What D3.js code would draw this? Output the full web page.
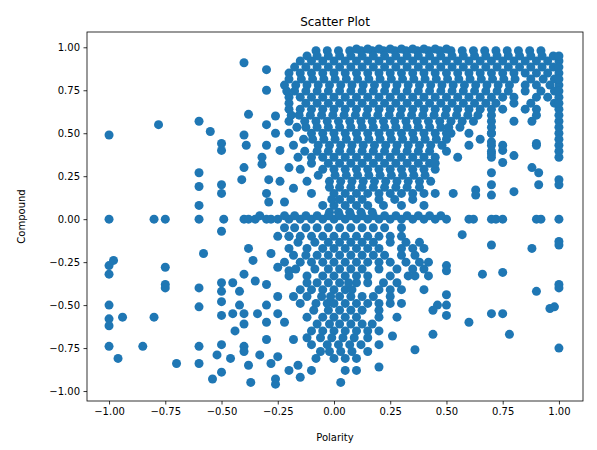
<!DOCTYPE html>
<html><head><meta charset="utf-8">
<script src="https://cdn.jsdelivr.net/npm/d3@7"></script>
<style>body{margin:0;background:#fff}text{font-family:"DejaVu Sans",sans-serif}</style>
</head><body><svg id="c" width="597" height="450"></svg>
<script>
// scattered single points
const polarity = [-1,-1,-1,-0.98,-1,-1,-1,-1,-1,-0.96,-0.94,-0.78,-0.8,-0.75,-0.75,-0.75,-0.75,-0.8,-0.85,-0.7,
  -0.6,-0.55,-0.6,-0.6,-0.6,-0.6,-0.58,-0.6,-0.6,-0.6,-0.6,-0.54,-0.5,-0.5,-0.5,-0.5,-0.5,-0.49,-0.5,-0.5,-0.5,-0.5,-0.5,-0.5,-0.52,
  -0.45,-0.45,-0.46,-0.44,-0.4,-0.4,-0.4,-0.41,-0.38,-0.39,-0.4,-0.42,-0.42,-0.4,-0.4,-0.4,-0.4,-0.38,-0.37,-0.38,-0.36,-0.35,-0.34,-0.33,
  -0.3,-0.3,-0.3,-0.3,-0.32,-0.32,-0.29,-0.3,-0.29,-0.3,-0.3,-0.3,-0.3,-0.28,-0.26,-0.26,-0.28,-0.25,-0.25,-0.25,-0.25,-0.22,-0.2,-0.2,
  -0.22,-0.24,-0.24,-0.26,-0.26,-0.2,-0.18,-0.2,-0.18,-0.18,-0.16,-0.15,
  0.57,0.7,0.88,1,1,0.66,0.75,0.5,0.5,0.5,0.5,0.5,0.9,1,1,0.96,0.98,0.7,0.75,0.6,0.78,0.44,1,0.36,0.2,0.03,0.26,0.46,0.44,
  0.75,0.75,0.8,0.8,0.88,0.9,0.91,0.91,1,1,1,0.7,0.7,0.7,0.63,0.63,0.53,0.7,0.7,0.7];
const compound = [0.49,0,-0.27,-0.24,-0.32,-0.5,-0.58,-0.62,-0.74,-0.81,-0.57,0.55,0,0,-0.28,-0.38,-0.4,-0.57,-0.74,-0.84,
  0.57,0.51,0.27,0.19,0.08,0,-0.2,-0.4,-0.51,-0.74,-0.84,-0.93,0.44,0.4,0.2,0.15,-0.07,0,-0.37,-0.42,-0.48,-0.56,-0.73,-0.89,-0.79,
  -0.37,-0.55,-0.81,-0.65,0.91,0.49,0.3,0.23,0.61,0.43,-0.32,-0.42,-0.5,-0.55,-0.61,-0.74,-0.77,-0.85,-0.95,-0.17,-0.24,-0.36,-0.55,-0.79,
  0.87,0.75,0.55,0.43,0.36,0.32,0.23,0.15,0.1,-0.38,-0.5,-0.6,-0.7,-0.84,-0.93,-0.96,-0.2,-0.28,-0.45,-0.55,-0.8,-0.6,-0.88,-0.1,
  0.1,0.4,0.22,0.6,0.5,0.3,0.18,-0.3,-0.45,-0.7,-0.85,-0.92,
  -0.09,-0.15,-0.17,-0.13,-0.15,-0.32,-0.31,-0.27,-0.3,-0.44,-0.5,-0.56,-0.42,-0.38,-0.4,-0.52,-0.51,-0.55,-0.55,-0.6,-0.67,-0.67,-0.75,-0.76,-0.86,-0.95,-0.68,-0.5,-0.53,
  0.4,0.33,0.37,0.16,0.3,0.44,0.27,0.2,0.36,0.23,0.2,0.27,0.2,0.14,0.17,0.14,0.15,0.5,0.45,0.38];

// dense rows: compound value and the polarity values seen along that row
const rowCompound = [0.98,0.92,0.85,0.78,0.71,0.64,0.57,0.5,0.43,0.36,0.29,0.22,0.15,0.08,0,
  -0.1,-0.17,-0.25,-0.33,-0.41,-0.49,-0.57,-0.65,-0.73,-0.81,-0.88];
const rowPolarity = [
  [-0.08,-0.03,0.02,0.07,0.12,0.17,0.22,0.27,0.32,0.37,0.42,0.47,0.52,0.57,0.62,0.67,0.72,0.77,0.82,0.87,0.92],
  [-0.15,-0.1,-0.05,0,0.05,0.1,0.15,0.2,0.25,0.3,0.35,0.4,0.45,0.5,0.55,0.6,0.65,0.7,0.75,0.8,0.85,0.9,0.95,1],
  [-0.2,-0.15,-0.1,-0.05,0,0.05,0.1,0.15,0.2,0.25,0.3,0.35,0.4,0.45,0.5,0.55,0.6,0.65,0.7,0.75,0.8,0.85,0.9,0.95,1],
  [-0.22,-0.17,-0.12,-0.07,-0.02,0.03,0.08,0.13,0.18,0.23,0.28,0.33,0.38,0.43,0.48,0.53,0.58,0.63,0.68,0.73,0.78,0.85,0.9,0.96,1],
  [-0.2,-0.15,-0.1,-0.05,0,0.05,0.1,0.15,0.2,0.25,0.3,0.35,0.4,0.45,0.5,0.55,0.6,0.65,0.7,0.75,0.8,0.9,0.95,1],
  [-0.2,-0.15,-0.1,-0.05,0,0.05,0.1,0.15,0.2,0.25,0.3,0.35,0.4,0.45,0.5,0.55,0.6,0.65,0.7,0.75,0.85,0.9,1],
  [-0.2,-0.13,-0.08,-0.03,0.02,0.07,0.12,0.17,0.22,0.27,0.32,0.37,0.42,0.47,0.52,0.57,0.62,0.7,0.8,0.88,1],
  [-0.2,-0.1,-0.05,0,0.05,0.1,0.15,0.2,0.25,0.3,0.35,0.4,0.45,0.5,0.52,0.6,0.7,1],
  [-0.18,-0.07,-0.02,0.03,0.08,0.13,0.18,0.23,0.28,0.33,0.38,0.43,0.48,0.6,0.7,0.75,0.9,1],
  [-0.16,-0.1,-0.05,0,0.05,0.1,0.15,0.2,0.25,0.3,0.35,0.4,0.45,0.55,0.7],
  [-0.15,-0.05,0,0.05,0.1,0.15,0.2,0.25,0.3,0.35,0.4,0.45],
  [-0.12,-0.02,0.03,0.08,0.13,0.18,0.23,0.28,0.33,0.38,0.43],
  [-0.1,0,0.05,0.1,0.15,0.2,0.25,0.3,0.35,0.4,0.45],
  [-0.05,0,0.05,0.1,0.15,0.22,0.3,0.4],
  [-0.4,-0.38,-0.35,-0.3,-0.28,-0.25,-0.2,-0.15,-0.1,-0.05,0,0.05,0.1,0.15,0.2,0.25,0.3,0.35,0.4,0.45,0.5,0.6,0.62,0.7,0.72,0.75,0.9,0.92,1],
  [-0.25,-0.2,-0.15,-0.1,-0.05,0,0.05,0.1,0.15,0.2,0.25,0.3],
  [-0.2,-0.12,-0.05,0,0.05,0.1,0.15,0.2,0.3,0.35,0.4],
  [-0.22,-0.15,-0.1,-0.05,0,0.05,0.1,0.15,0.2,0.25,0.32,0.38,0.42],
  [-0.2,-0.12,-0.05,0,0.05,0.1,0.15,0.25,0.33,0.36,0.42],
  [-0.15,-0.1,-0.05,0,0.05,0.08,0.2,0.25,0.3,0.4],
  [-0.15,-0.08,-0.03,0,0.05,0.1,0.15,0.2,0.25,0.3],
  [-0.12,-0.05,0,0.05,0.1,0.2,0.28],
  [-0.1,-0.05,0,0.05,0.1,0.15,0.2],
  [-0.1,-0.03,0.02,0.07,0.12,0.2],
  [-0.08,0,0.05,0.1],
  [-0.1,0.05,0.1]
];
// in-between rows filling the gaps of the solid areas
const fillCompound = [0.99,0.95,0.885,0.815,0.745,0.675,0.605,0.535,0.465,0.395,0.325,0.255,0.185,0.115,0.04,0.02,
  -0.05,-0.135,-0.21,-0.29,-0.37,-0.45,-0.53,-0.61,-0.69,-0.77];
const fillPolarity = [
  [0.1,0.15,0.2,0.25,0.3,0.35,0.4,0.45,0.5],
  [-0.12,-0.075,-0.025,0.025,0.075,0.125,0.175,0.225,0.275,0.325,0.375,0.425,0.475,0.525,0.575,0.625,0.675,0.725,0.775,0.825,0.875,0.925,0.975,1],
  [-0.175,-0.125,-0.075,-0.025,0.025,0.075,0.125,0.175,0.225,0.275,0.325,0.375,0.425,0.475,0.525,0.575,0.625,0.675,0.725,0.775,0.825,0.875,0.925,0.975,1],
  [-0.2,-0.145,-0.095,-0.045,0.005,0.055,0.105,0.155,0.205,0.255,0.305,0.355,0.405,0.455,0.505,0.555,0.605,0.655,0.705,0.755,0.805,0.875,0.93,0.98,1],
  [-0.21,-0.175,-0.125,-0.075,-0.025,0.025,0.075,0.125,0.175,0.225,0.275,0.325,0.375,0.425,0.475,0.525,0.575,0.625,0.675,0.725,0.775,0.85,0.92,0.98,1],
  [-0.2,-0.125,-0.075,-0.025,0.025,0.075,0.125,0.175,0.225,0.275,0.325,0.375,0.425,0.475,0.525,0.575,0.625,0.675,0.72,0.8,0.875,0.98,1],
  [-0.19,-0.155,-0.105,-0.055,-0.005,0.045,0.095,0.145,0.195,0.245,0.295,0.345,0.395,0.445,0.495,0.545,0.595,0.64,0.7,0.9,1],
  [-0.165,-0.125,-0.075,-0.025,0.025,0.075,0.125,0.175,0.225,0.275,0.325,0.375,0.425,0.475,0.51,0.56,0.7,1],
  [-0.135,-0.095,-0.045,0.005,0.055,0.105,0.155,0.205,0.255,0.305,0.355,0.405,0.455,0.5,0.65,1],
  [-0.13,-0.075,-0.025,0.025,0.075,0.125,0.175,0.225,0.275,0.325,0.375,0.425,0.5,0.7,1],
  [-0.1,-0.025,0.025,0.075,0.125,0.175,0.225,0.275,0.325,0.375,0.425,0.45],
  [-0.07,0.005,0.055,0.105,0.155,0.205,0.255,0.305,0.355,0.405],
  [-0.02,0.025,0.075,0.125,0.175,0.225,0.275,0.325,0.38],
  [-0.01,0.025,0.075,0.125,0.2,0.27,0.35],
  [-0.02,0.02,0.07,0.12,0.17],
  [-0.33,-0.22,-0.175,-0.125,-0.075,-0.025,0.025,0.075,0.125,0.175,0.225,0.275,0.325,0.375,0.425,0.475],
  [-0.22,-0.175,-0.125,-0.075,-0.025,0.025,0.075,0.125,0.175,0.225,0.3],
  [-0.16,-0.085,-0.025,0.025,0.075,0.125,0.175,0.25,0.32,0.38],
  [-0.18,-0.125,-0.075,-0.025,0.025,0.075,0.125,0.175,0.225,0.3,0.36],
  [-0.17,-0.085,-0.025,0.025,0.075,0.125,0.2,0.28,0.35,0.4],
  [-0.12,-0.075,-0.025,0.025,0.065,0.1,0.15,0.22,0.28],
  [-0.12,-0.055,-0.015,0.025,0.075,0.125,0.175,0.25],
  [-0.09,-0.025,0.025,0.075,0.125,0.2],
  [-0.075,-0.02,0.025,0.075,0.125,0.17],
  [-0.12,-0.06,-0.01,0.04,0.09,0.15],
  [-0.06,-0.02,0.03,0.08,0.15]
];
const xTicks = [-1, -0.75, -0.5, -0.25, 0, 0.25, 0.5, 0.75, 1];
const yTicks = [-1, -0.75, -0.5, -0.25, 0, 0.25, 0.5, 0.75, 1];

const points = polarity.map((p, i) => ({ x: p, y: compound[i] }));
rowCompound.forEach((c, i) => rowPolarity[i].forEach(p => points.push({ x: p, y: c })));
fillCompound.forEach((c, i) => fillPolarity[i].forEach(p => points.push({ x: p, y: c })));

const svg = d3.select('#c');
const mLeft = 87, mRight = 583, mTop = 32, mBottom = 401;
const x = d3.scaleLinear().domain([-1.098, 1.107]).range([mLeft, mRight]);
const y = d3.scaleLinear().domain([-1.058, 1.089]).range([mBottom, mTop]);

svg.append('g').selectAll('circle').data(points).enter().append('circle')
    .attr('cx', d => x(d.x)).attr('cy', d => y(d.y)).attr('r', 4.5)
    .attr('fill', '#1f77b4');

const fmt = d3.format('.2f');
const xa = svg.append('g').attr('transform', `translate(0,${mBottom})`)
    .call(d3.axisBottom(x).tickValues(xTicks).tickFormat(d => fmt(d).replace('-', '\u2212')).tickSize(3.5).tickPadding(3.5));
const ya = svg.append('g').attr('transform', `translate(${mLeft},0)`)
    .call(d3.axisLeft(y).tickValues(yTicks).tickFormat(d => fmt(d).replace('-', '\u2212')).tickSize(3.5).tickPadding(3.5));
[xa, ya].forEach(a => {
    a.select('.domain').remove();
    a.selectAll('text').attr('font-size', '10px').attr('fill', '#000').style('font-family', 'DejaVu Sans');
    a.selectAll('line').attr('stroke', '#000').attr('stroke-width', 0.8);
});

svg.append('rect').attr('x', mLeft).attr('y', mTop).attr('width', mRight - mLeft).attr('height', mBottom - mTop)
    .attr('fill', 'none').attr('stroke', '#000').attr('stroke-width', 0.8);

svg.append('text').attr('x', (mLeft + mRight) / 2).attr('y', mTop - 6).attr('text-anchor', 'middle')
    .attr('font-size', '12px').text('Scatter Plot');
svg.append('text').attr('x', (mLeft + mRight) / 2).attr('y', 441).attr('text-anchor', 'middle')
    .attr('font-size', '10px').text('Polarity');
svg.append('text').attr('transform', `translate(25,${(mTop + mBottom) / 2}) rotate(-90)`).attr('text-anchor', 'middle')
    .attr('font-size', '10px').text('Compound');
</script></body></html>
